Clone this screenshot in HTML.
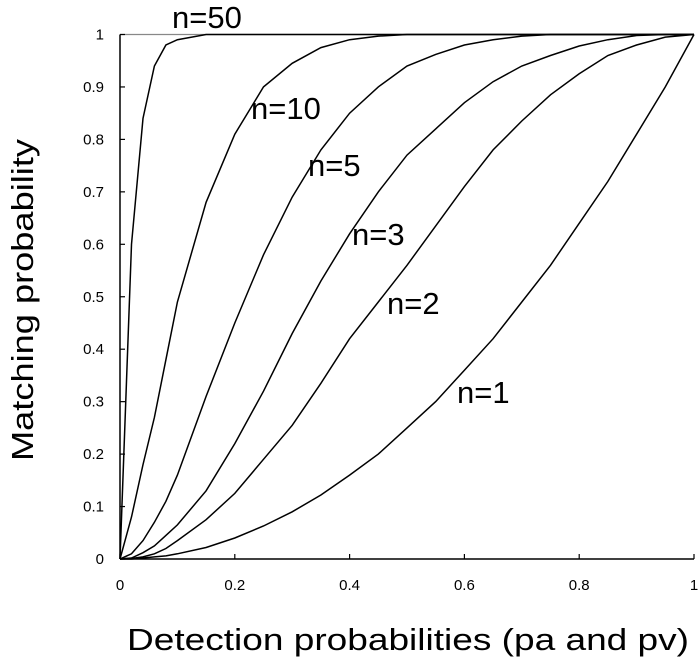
<!DOCTYPE html>
<html><head><meta charset="utf-8"><style>
html,body{margin:0;padding:0;background:#fff;}
svg{display:block;font-family:"Liberation Sans",sans-serif;}
</style></head><body>
<svg id="chart" width="700" height="665" viewBox="0 0 700 665" xmlns="http://www.w3.org/2000/svg">
<g id="axes"></g><g id="series"></g><g id="labels"></g>
<text transform="translate(33,300) rotate(-90)" text-anchor="middle" font-size="31" textLength="322" lengthAdjust="spacingAndGlyphs">Matching  probability</text>
<text x="408" y="650" text-anchor="middle" font-size="31" textLength="562" lengthAdjust="spacingAndGlyphs">Detection probabilities (pa and pv)</text>
</svg>
<script>
const xValues=[0,0.02,0.04,0.06,0.08,0.1,0.15,0.2,0.25,0.3,0.35,0.4,0.45,0.5,0.55,0.6,0.65,0.7,0.75,0.8,0.85,0.9,0.95,1];
const n1=[0,0,0.002,0.004,0.006,0.01,0.022,0.04,0.063,0.09,0.122,0.16,0.2,0.25,0.3,0.36,0.42,0.49,0.56,0.64,0.72,0.81,0.9,1];
const n2=[0,0.001,0.004,0.01,0.02,0.035,0.075,0.125,0.19,0.255,0.335,0.42,0.49,0.56,0.635,0.71,0.78,0.835,0.885,0.925,0.96,0.98,0.995,1];
const n3=[0,0.002,0.012,0.025,0.045,0.065,0.13,0.22,0.32,0.43,0.53,0.62,0.70,0.77,0.82,0.87,0.91,0.94,0.96,0.978,0.99,0.998,1,1];
const n5=[0,0.01,0.035,0.07,0.11,0.16,0.31,0.45,0.58,0.69,0.78,0.85,0.90,0.94,0.962,0.98,0.99,0.997,1,1,1,1,1,1];
const n10=[0,0.08,0.18,0.27,0.38,0.49,0.68,0.81,0.90,0.945,0.975,0.99,0.997,1,1,1,1,1,1,1,1,1,1,1];
const n50=[0,0.6,0.84,0.94,0.98,0.99,1,1,1,1,1,1,1,1,1,1,1,1,1,1,1,1,1,1];
const seriesNames=["n=1","n=2","n=3","n=5","n=10","n=50"];
const xTicks=["0","0.2","0.4","0.6","0.8","1"];
const yTicks=["0","0.1","0.2","0.3","0.4","0.5","0.6","0.7","0.8","0.9","1"];
const NS="http://www.w3.org/2000/svg";
const X0=120,X1=694,Y0=559,Y1=34.5;
function sx(v){return X0+v*(X1-X0);}
function sy(v){return Y0-v*(Y0-Y1);}
function mk(t,a,p){const e=document.createElementNS(NS,t);for(const k in a)e.setAttribute(k,a[k]);p.appendChild(e);return e;}
const axes=document.getElementById('axes');
let l=mk('line',{x1:X0,y1:sy(1),x2:X1,y2:sy(1),stroke:'#888','stroke-width':1.2},axes);


l=mk('line',{x1:X0,y1:Y1,x2:X0,y2:Y0,stroke:'#000','stroke-width':1.5},axes);


l=mk('line',{x1:X0,y1:Y0,x2:X1,y2:Y0,stroke:'#000','stroke-width':1.5},axes);


yTicks.forEach(t=>{const v=parseFloat(t);
 const tk=mk('line',{x1:X0,y1:sy(v),x2:X0+5,y2:sy(v),stroke:'#000','stroke-width':1.2},axes);
 
 
 const tx=mk('text',{x:104,y:sy(v)+5,'text-anchor':'end','font-size':15},axes);tx.textContent=t;
 
 });
xTicks.forEach(t=>{const v=parseFloat(t);
 const tk=mk('line',{x1:sx(v),y1:Y0,x2:sx(v),y2:Y0-5,stroke:'#000','stroke-width':1.2},axes);
 
 
 const tx=mk('text',{x:sx(v),y:590,'text-anchor':'middle','font-size':15},axes);tx.textContent=t;
 
 });
const ser=document.getElementById('series');
[n1,n2,n3,n5,n10,n50].forEach((arr,i)=>{
 const pts=arr.map((v,j)=>sx(xValues[j]).toFixed(1)+','+sy(v).toFixed(1)).join(' ');
 const p=mk('polyline',{points:pts,fill:'none',stroke:'#000','stroke-width':1.5},ser);
 
 });
const lab=document.getElementById('labels');
const labPos=[[457,403],[387,314],[352,245],[308,176],[251,119],[172,28]];
seriesNames.forEach((s,i)=>{
 const t=mk('text',{x:labPos[i][0],y:labPos[i][1],'font-size':31},lab);t.textContent=s;
 
 });
</script>
</body></html>
